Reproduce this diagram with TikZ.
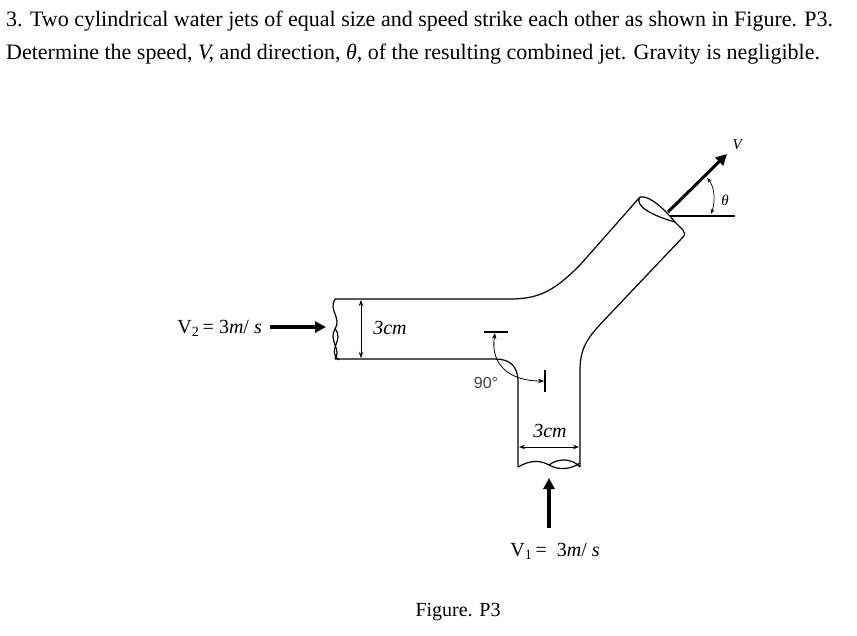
\documentclass[tikz,border=0pt]{standalone}
\usepackage{fontspec}
\setmainfont{Liberation Serif}
\newfontfamily\sansf{Liberation Sans}
\usetikzlibrary{arrows.meta}
\begin{document}
\begin{tikzpicture}[x=1pt,y=-1pt,
  pipe/.style={line width=1.2pt},
  dim/.style={line width=0.8pt,{Stealth[length=6pt]}-{Stealth[length=6pt]}},
  bigarrow/.style={line width=3.2pt,-{Triangle[length=11pt,width=11pt]}},
  lbl/.style={inner sep=0pt,font=\fontsize{20}{23}\selectfont}]
\useasboundingbox (0,0) rectangle (857,635);
\node[anchor=west,inner sep=0pt,font=\fontsize{22}{25}\selectfont] (t1) at (6,21) {3. Two cylindrical water jets of equal size and speed strike each other as shown in Figure. P3.};
\node[anchor=west,inner sep=0pt,font=\fontsize{22}{25}\selectfont] (t2) at (6,54) {Determine the speed, \textit{V,} and direction, \textit{θ,} of the resulting combined jet. Gravity is negligible.};
% pipe outline
\draw[pipe] (335,299) -- (510,299) .. controls (540,299) and (555,290) .. (580,265) -- (640,197);
\draw[pipe] (683,237) -- (610,314) .. controls (590,335) and (580,345) .. (580,370) -- (580,467);
\draw[pipe] (335,359) -- (495,359) .. controls (510,359) and (518,366) .. (518,382) -- (518,467);
% wavy ends
\draw[pipe] (335,299) .. controls (328,310) and (342,318) .. (335,329) .. controls (328,340) and (342,350) .. (335,359);
\draw[pipe] (335,329) .. controls (345,340) and (326,350) .. (339,360);
\draw[pipe] (518,467) .. controls (530,460) and (540,460) .. (549,465) .. controls (558,470) and (570,470) .. (580,463);
\draw[pipe] (549,465) .. controls (558,458) and (572,458) .. (580,467);
\draw[pipe] (640,197) .. controls (650,195) and (665,210) .. (675,222) .. controls (680,228) and (688,232) .. (683,237);
\draw[pipe] (640,197) .. controls (634,205) and (650,215) .. (675,222);
% dimensions
\coordinate (d1a) at (361,300); \coordinate (d1b) at (361,358);
\draw[dim] (d1a) -- (d1b);
\node[lbl] (c1) at (390,328) {\textit{3cm}};
\coordinate (d2a) at (519,447); \coordinate (d2b) at (579,447);
\draw[dim] (d2a) -- (d2b);
\node[lbl] (c2) at (550,431) {\textit{3cm}};
% 90 degree
\draw[line width=1.1pt] (484,332) -- (508,332);
\draw[line width=1.1pt] (545,370) -- (545,392);
\coordinate (a1) at (495,333); \coordinate (a2) at (544,381);
\draw[line width=0.8pt,{Stealth[length=6pt]}-{Stealth[length=6pt]}] (a1) .. controls (490,365) and (510,381) .. (a2);
\node[inner sep=0pt,font=\sansf\fontsize{16}{18}\selectfont,text=black!75] (n90) at (486,383) {90°};
% jets
\node[lbl,anchor=east] (v2) at (262,328) {V\textsubscript{2}\,= 3\textit{m}/ \textit{s}};
\coordinate (l1) at (270,327); \coordinate (l2) at (326,327);
\draw[bigarrow] (l1) -- (l2);
\coordinate (b1) at (549,528); \coordinate (b2) at (549,478);
\draw[bigarrow] (b1) -- (b2);
\node[lbl] (v1) at (555,551) {V\textsubscript{1}\,= \ 3\textit{m}/ \textit{s}};
% resulting jet
\coordinate (r1) at (668,212); \coordinate (r2) at (727,154);
\draw[bigarrow,line width=3pt] (r1) -- (r2);
\coordinate (h1) at (670,216); \coordinate (h2) at (735,216);
\draw[line width=1.1pt] (h1) -- (h2);
\draw[line width=0.7pt,{Stealth[length=5pt]}-{Stealth[length=5pt]}] (707,178) .. controls (714,186) and (716,200) .. (711,214);
\node[inner sep=0pt,font=\fontsize{15}{17}\selectfont] (th) at (725,200) {\textit{θ}};
\node[inner sep=0pt,font=\fontsize{15}{17}\selectfont] (vv) at (738,145) {\textit{V}};
\node[lbl] (fig) at (458,612) {Figure. P3};
\end{tikzpicture}
\end{document}
